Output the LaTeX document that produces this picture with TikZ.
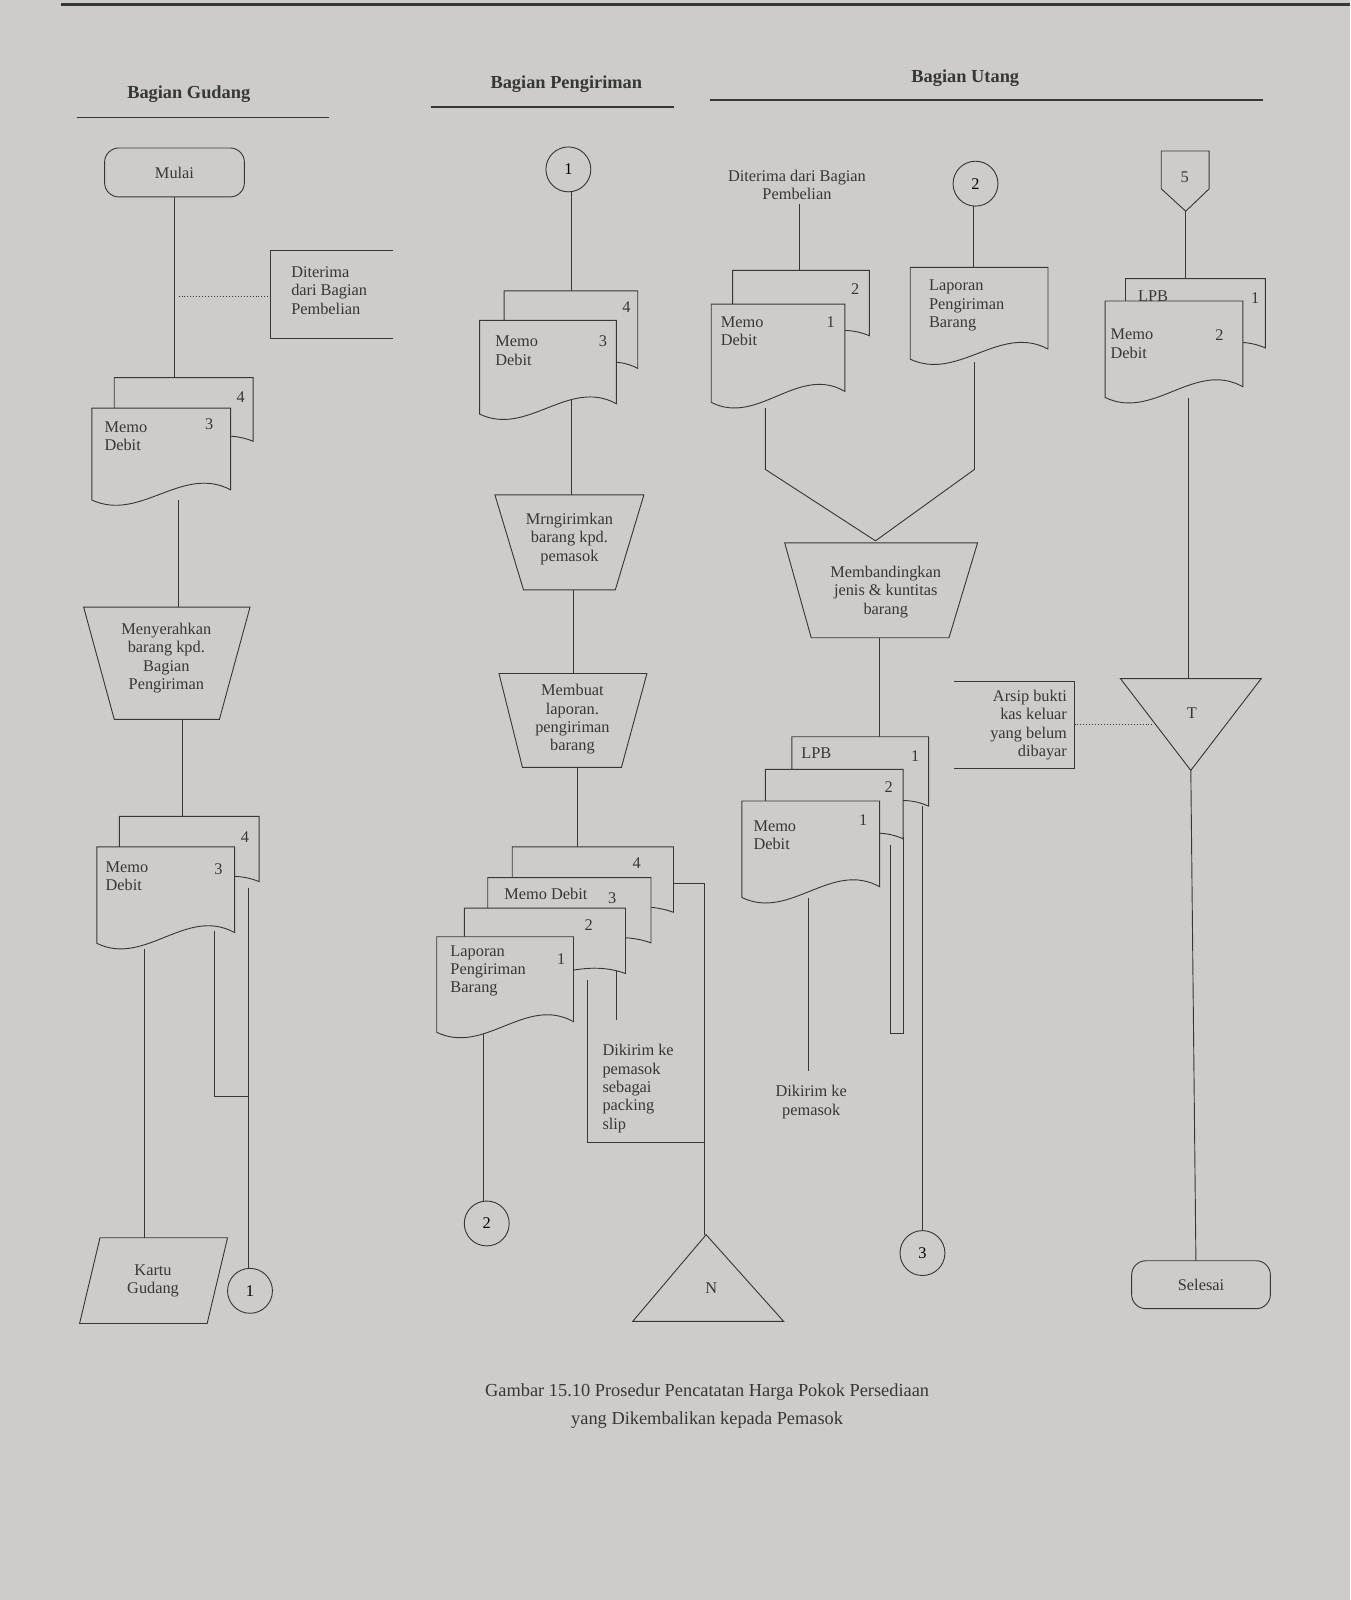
\documentclass[tikz,border=0pt]{standalone}
\usepackage{fontspec}
\setmainfont{Liberation Serif}
\definecolor{paper}{RGB}{206,204,201}
\definecolor{ink}{RGB}{55,55,55}
\newcommand\mydoc[5][]{\draw[docst,#1] (#2,#3) -- ({#2+#4},#3) -- ({#2+#4},{#3+0.8*#5}) .. controls ({#2+0.65*#4},{#3+0.55*#5}) and ({#2+0.35*#4},{#3+1.12*#5}) .. (#2,{#3+0.9*#5}) -- cycle;}
\begin{document}
\begin{tikzpicture}[x=1pt,y=-1pt,line width=0.9pt,
  docst/.style={draw=ink,fill=paper},
  ln/.style={draw=ink},
  txt/.style={font=\fontsize{16}{18}\selectfont,text=ink,inner sep=0pt,align=left},
  ctxt/.style={txt,align=center},
  hd/.style={font=\fontsize{18}{20}\selectfont\bfseries,text=ink},
  circ/.style={draw=ink,fill=paper,circle,minimum size=44pt,inner sep=0pt,font=\fontsize{16}{17}\selectfont}]
\fill[paper] (0,0) rectangle (1323,1568);
\useasboundingbox (0,0) rectangle (1323,1568);
\draw[ink,line width=3pt] (60,4) -- (1323,4);
% headers
\node[hd] (h1) at (185,92) {Bagian Gudang};
\node[hd] (h2) at (555,82) {Bagian Pengiriman};
\node[hd] (h3) at (946,77) {Bagian Utang};
\draw[ln,line width=1.6pt] (75,115)--(322,115) (422,105)--(661,105) (696,98)--(1238,98);
% ===== Column 1
\draw[ln] (171,193)--(171,370);
\node[draw=ink,fill=paper,rounded corners=14pt,minimum width=137pt,minimum height=48pt,txt] (mulai) at (171,169) {Mulai};
\draw[ln,dotted] (175,291)--(265,291);
\draw[ln] (385,245)--(265,245)--(265,332)--(385,332);
\node[txt,anchor=north west] (d1) at (285,261) {Diterima\\dari Bagian\\Pembelian};
\mydoc{112}{370}{136}{78}
\mydoc{90}{400}{136}{100}
\node[txt] at (236,389) {4}; \node[txt] at (205,416) {3};
\node[txt,anchor=north west] at (102,413) {Memo\\Debit};
\draw[ln] (175,490)--(175,595);
\draw[ln,fill=paper] (82,595)--(245,595)--(215,705)--(112,705)--cycle;
\node[ctxt] (t1) at (163,645) {Menyerahkan\\barang kpd.\\Bagian\\Pengiriman};
\draw[ln] (179,705)--(179,800);
\draw[ln] (210,912)--(210,1075)--(243,1075);
\draw[ln] (243,870)--(243,1243);
\draw[ln] (142,930)--(142,1213);
\mydoc{117}{800}{137}{80}
\mydoc{95}{830}{135}{105}
\node[txt] at (240,820) {4}; \node[txt] at (214,852) {3};
\node[txt,anchor=north west] at (103,844) {Memo\\Debit};
\draw[ln,fill=paper] (98,1213)--(223,1213)--(203,1297)--(78,1297)--cycle;
\node[ctxt] (kg) at (150,1255) {Kartu\\Gudang};
\node[circ] (c1a) at (245,1265) {1};
% ===== Column 2
\draw[ln] (560,188)--(560,485);
\node[circ] (c1b) at (557,166) {1};
\mydoc{494}{285}{131}{95}
\mydoc{470}{314}{134}{102}
\node[txt] at (614,301) {4}; \node[txt] at (591,334) {3};
\node[txt,anchor=north west] at (485,329) {Memo\\Debit};
\draw[ln,fill=paper] (485,485)--(631,485)--(603,578)--(513,578)--cycle;
\node[ctxt] at (558,528) {Mrngirimkan\\barang kpd.\\pemasok};
\draw[ln] (562,578)--(562,660);
\draw[ln,fill=paper] (489,660)--(634,660)--(609,752)--(512,752)--cycle;
\node[ctxt] at (561,705) {Membuat\\laporan.\\pengiriman\\barang};
\draw[ln] (566,752)--(566,830);
\draw[ln] (660,866)--(690,866)--(690,1210);
\draw[ln] (576,960)--(576,1120)--(690,1120);
\draw[ln] (604,930)--(604,1000);
\draw[ln] (474,1000)--(474,1178);
\mydoc{502}{830}{158}{80}
\mydoc{478}{860}{160}{80}
\mydoc{455}{890}{158}{80}
\mydoc{428}{918}{134}{104}
\node[txt] at (624,846) {4};
\node[txt] at (535,876) {Memo Debit}; \node[txt] at (600,880) {3};
\node[txt] at (577,907) {2}; \node[txt] at (550,940) {1};
\node[txt,anchor=north west] at (441,926) {Laporan\\Pengiriman\\Barang};
\node[txt,anchor=north west] at (590,1023) {Dikirim ke\\pemasok\\sebagai\\packing\\slip};
\node[circ] (c2a) at (477,1199) {2};
\draw[ln,fill=paper] (692,1210)--(768,1295)--(620,1295)--cycle;
\node[txt] (N) at (697,1262) {N};
% ===== Column 3
\node[ctxt] (d2) at (781,181) {Diterima dari Bagian\\Pembelian};
\draw[ln] (783,200)--(783,265);
\node[circ] (c2b) at (956,180) {2};
\draw[ln] (954,202)--(954,262);
\draw[ln] (750,400)--(750,460)--(858,530)--(955,460)--(955,355);
\mydoc{718}{265}{134}{80}
\mydoc{697}{298}{131}{107}
\node[txt] at (838,283) {2}; \node[txt] at (814,316) {1};
\node[txt,anchor=north west] at (706,310) {Memo\\Debit};
\mydoc{892}{262}{135}{100}
\node[txt,anchor=north west] at (910,274) {Laporan\\Pengiriman\\Barang};
\draw[ln,fill=paper] (769,532)--(958,532)--(930,625)--(795,625)--cycle;
\node[ctxt] at (868,580) {Membandingkan\\jenis \& kuntitas\\barang};
\draw[ln] (862,625)--(862,722);
\draw[ln] (935,668)--(1053,668)--(1053,753)--(935,753);
\draw[ln,dotted] (1053,710)--(1130,710);
\node[txt,anchor=north east,align=right] at (1046,676) {Arsip bukti\\kas keluar\\yang belum\\dibayar};
\draw[ln] (904,790)--(904,1206);
\draw[ln] (885,820)--(885,1013)--(873,1013)--(873,828);
\draw[ln] (792,880)--(792,1050);
\mydoc{776}{722}{134}{85}
\mydoc{750}{754}{135}{85}
\mydoc{727}{785}{135}{105}
\node[txt] at (800,738) {LPB}; \node[txt] at (897,741) {1};
\node[txt] at (871,771) {2}; \node[txt] at (846,804) {1};
\node[txt,anchor=north west] at (738,804) {Memo\\Debit};
\node[ctxt] at (795,1080) {Dikirim ke\\pemasok};
\node[circ] (c3) at (904,1228) {3};
% ===== Column 4
\draw[ln] (1162,207)--(1162,273);
\draw[ln,fill=paper] (1138,148)--(1185,148)--(1185,185)--(1162,207)--(1138,185)--cycle;
\node[txt] (c5) at (1161,174) {5};
\draw[ln] (1165,390)--(1165,665);
\mydoc{1103}{273}{137}{85}
\mydoc{1083}{295}{135}{105}
\node[txt] at (1130,290) {LPB}; \node[txt] at (1230,292) {1};
\node[txt] at (1195,328) {2};
\node[txt,anchor=north west] at (1088,322) {Memo\\Debit};
\draw[ln,fill=paper] (1098,665)--(1236,665)--(1167,755)--cycle;
\node[txt] (T) at (1168,699) {T};
\draw[ln] (1167,755)--(1172,1236);
\node[draw=ink,fill=paper,rounded corners=14pt,minimum width=136pt,minimum height=47pt,txt] (sel) at (1177,1259) {Selesai};
% caption
\node[ctxt,font=\fontsize{18}{28}\selectfont] at (693,1378) {Gambar 15.10 Prosedur Pencatatan Harga Pokok Persediaan\\yang Dikembalikan kepada Pemasok};
\end{tikzpicture}
\end{document}
